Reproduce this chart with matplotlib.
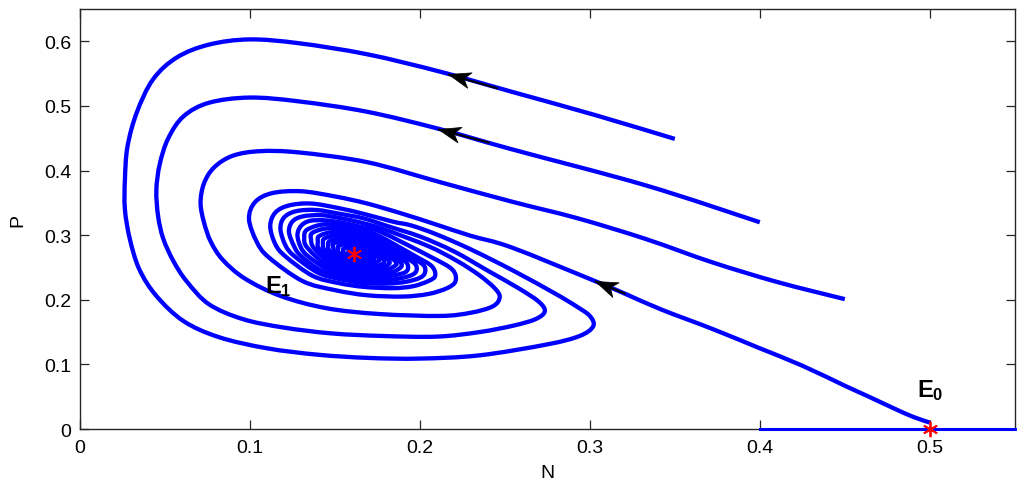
import numpy as np
import matplotlib
matplotlib.use("Agg")
import matplotlib.pyplot as plt
from matplotlib.path import Path
from matplotlib.patches import PathPatch
from matplotlib.markers import MarkerStyle
from matplotlib.transforms import Affine2D

plt.rcParams['font.family'] = ['Liberation Sans', 'DejaVu Sans']
plt.rcParams['mathtext.fontset'] = 'custom'
plt.rcParams['mathtext.rm'] = 'Liberation Sans'
plt.rcParams['mathtext.bf'] = 'Liberation Sans:bold'

# ---------------- data (N, P) ----------------
xticks = [0, 0.1, 0.2, 0.3, 0.4, 0.5]
xticklabels = ["0", "0.1", "0.2", "0.3", "0.4", "0.5"]
yticks = [0, 0.1, 0.2, 0.3, 0.4, 0.5, 0.6]
yticklabels = ["0", "0.1", "0.2", "0.3", "0.4", "0.5", "0.6"]

E0 = (0.5, 0.0)
E1 = (0.161, 0.271)

# trajectory 1: start (0.35, 0.45), outermost loop A and its return
traj1_N = [0.350, 0.303, 0.254, 0.212, 0.169, 0.129, 0.100, 0.076, 0.057, 0.043, 0.0335, 0.028, 0.0265,
           0.0265, 0.0294, 0.035, 0.045, 0.061, 0.082, 0.110, 0.140, 0.170, 0.200, 0.235,
           0.275, 0.294, 0.302, 0.300, 0.292, 0.280, 0.255, 0.230, 0.210, 0.195]
traj1_P = [0.449, 0.486, 0.522, 0.553, 0.580, 0.597, 0.603, 0.595, 0.575, 0.541, 0.490, 0.437, 0.386,
           0.340, 0.294, 0.247, 0.206, 0.167, 0.142, 0.125, 0.115, 0.110, 0.109, 0.114,
           0.131, 0.144, 0.159, 0.175, 0.190, 0.209, 0.245, 0.278, 0.301, 0.315]

# trajectory 2: start (0.4, 0.32), loop B and its return
traj2_N = [0.400, 0.333, 0.254, 0.212, 0.169, 0.129, 0.100, 0.076, 0.061, 0.052, 0.047, 0.045, 0.046,
           0.049, 0.055, 0.063, 0.076, 0.096, 0.120, 0.148, 0.178, 0.210, 0.235, 0.255, 0.268, 0.2735,
           0.270, 0.258, 0.240, 0.220, 0.200]
traj2_P = [0.320, 0.377, 0.433, 0.464, 0.491, 0.507, 0.513, 0.505, 0.484, 0.450, 0.410, 0.370, 0.330,
           0.295, 0.260, 0.228, 0.193, 0.170, 0.157, 0.148, 0.144, 0.143, 0.150, 0.160, 0.170, 0.182,
           0.197, 0.218, 0.245, 0.275, 0.298]

# trajectory 3: start (0.45, 0.2), loop C and its return
traj3_N = [0.450, 0.411, 0.372, 0.333, 0.293, 0.254, 0.212, 0.169, 0.129, 0.106, 0.090, 0.079, 0.073,
           0.071, 0.073, 0.077, 0.084, 0.097, 0.118, 0.145, 0.176, 0.212, 0.230, 0.243, 0.247,
           0.244, 0.235, 0.222, 0.205]
traj3_P = [0.201, 0.227, 0.258, 0.294, 0.326, 0.352, 0.382, 0.413, 0.428, 0.430, 0.423, 0.405, 0.380,
           0.350, 0.320, 0.290, 0.262, 0.233, 0.206, 0.187, 0.178, 0.175, 0.180, 0.190, 0.204,
           0.218, 0.238, 0.260, 0.283]

# trajectory 4: leaves E0 and enters the spiral (loop D)
traj4_N = [0.500, 0.490, 0.478, 0.465, 0.450, 0.425, 0.399, 0.372, 0.342, 0.321, 0.303, 0.254, 0.230, 0.209]
traj4_P = [0.010, 0.019, 0.033, 0.049, 0.067, 0.098, 0.126, 0.155, 0.185, 0.209, 0.229, 0.281, 0.299, 0.317]

# spiral revolutions around E1 (outer to inner)
revD_N = [0.190, 0.169, 0.150, 0.130, 0.113, 0.103, 0.0995, 0.104, 0.111, 0.131, 0.150, 0.169, 0.190, 0.205, 0.216, 0.221, 0.219, 0.206]
revD_P = [0.333, 0.349, 0.360, 0.368, 0.365, 0.351, 0.325, 0.290, 0.266, 0.229, 0.215, 0.207, 0.205, 0.209, 0.218, 0.229, 0.247, 0.267]
rev2_N = [0.184, 0.167, 0.152, 0.136, 0.123, 0.115, 0.112, 0.115, 0.121, 0.137, 0.152, 0.167, 0.184, 0.196, 0.205, 0.209, 0.207, 0.197]
rev2_P = [0.321, 0.333, 0.342, 0.349, 0.346, 0.335, 0.314, 0.286, 0.267, 0.237, 0.226, 0.220, 0.218, 0.221, 0.229, 0.237, 0.252, 0.268]
rev3_N = [0.181, 0.167, 0.153, 0.139, 0.127, 0.120, 0.118, 0.121, 0.126, 0.140, 0.153, 0.167, 0.181, 0.192, 0.200, 0.203, 0.202, 0.193]
rev3_P = [0.314, 0.326, 0.333, 0.339, 0.337, 0.327, 0.309, 0.284, 0.268, 0.242, 0.232, 0.226, 0.225, 0.228, 0.234, 0.242, 0.254, 0.268]
rev4_N = [0.179, 0.166, 0.154, 0.142, 0.131, 0.125, 0.123, 0.126, 0.130, 0.142, 0.154, 0.166, 0.179, 0.188, 0.195, 0.198, 0.197, 0.189]
rev4_P = [0.309, 0.319, 0.326, 0.331, 0.329, 0.321, 0.305, 0.283, 0.268, 0.245, 0.236, 0.231, 0.230, 0.233, 0.238, 0.245, 0.256, 0.269]
rev5_N = [0.177, 0.165, 0.155, 0.144, 0.135, 0.130, 0.128, 0.130, 0.134, 0.145, 0.155, 0.165, 0.177, 0.185, 0.191, 0.193, 0.192, 0.185]
rev5_P = [0.305, 0.313, 0.319, 0.323, 0.322, 0.314, 0.300, 0.281, 0.268, 0.248, 0.241, 0.236, 0.235, 0.238, 0.242, 0.248, 0.258, 0.269]
rev6_N = [0.175, 0.165, 0.146, 0.134, 0.132, 0.134, 0.147, 0.165, 0.182, 0.189, 0.188, 0.182]
rev6_P = [0.300, 0.308, 0.317, 0.309, 0.296, 0.280, 0.251, 0.241, 0.242, 0.251, 0.260, 0.269]
rev7_N = [0.173, 0.164, 0.148, 0.137, 0.136, 0.138, 0.149, 0.164, 0.179, 0.186, 0.185, 0.180]
rev7_P = [0.296, 0.303, 0.311, 0.304, 0.293, 0.279, 0.254, 0.245, 0.246, 0.254, 0.261, 0.269]
rev8_N = [0.171, 0.164, 0.150, 0.141, 0.140, 0.141, 0.151, 0.164, 0.176, 0.182, 0.181, 0.177]
rev8_P = [0.293, 0.298, 0.305, 0.299, 0.290, 0.278, 0.256, 0.249, 0.249, 0.256, 0.263, 0.270]
rev9_N = [0.170, 0.163, 0.152, 0.144, 0.143, 0.144, 0.152, 0.163, 0.174, 0.179, 0.178, 0.175]
rev9_P = [0.290, 0.294, 0.300, 0.295, 0.287, 0.277, 0.258, 0.252, 0.252, 0.258, 0.264, 0.270]
rev10_N = [0.168, 0.163, 0.153, 0.147, 0.146, 0.147, 0.154, 0.163, 0.172, 0.176, 0.176, 0.172]
rev10_P = [0.287, 0.291, 0.295, 0.291, 0.285, 0.276, 0.261, 0.255, 0.256, 0.261, 0.265, 0.270]
rev11_N = [0.167, 0.163, 0.155, 0.149, 0.149, 0.150, 0.155, 0.163, 0.170, 0.173, 0.173, 0.170]
rev11_P = [0.283, 0.287, 0.290, 0.287, 0.282, 0.275, 0.263, 0.258, 0.259, 0.263, 0.266, 0.270]
rev12_N = [0.165, 0.162, 0.156, 0.152, 0.152, 0.152, 0.157, 0.162, 0.168, 0.170, 0.170, 0.168]
rev12_P = [0.280, 0.283, 0.286, 0.283, 0.279, 0.274, 0.265, 0.261, 0.262, 0.265, 0.267, 0.270]
rev13_N = [0.164, 0.162, 0.158, 0.155, 0.155, 0.155, 0.158, 0.162, 0.165, 0.167, 0.167, 0.166]
rev13_P = [0.277, 0.279, 0.281, 0.279, 0.276, 0.273, 0.267, 0.265, 0.265, 0.267, 0.269, 0.271]
rev14_N = [0.162, 0.161, 0.159, 0.158, 0.158, 0.158, 0.160, 0.161, 0.163, 0.164, 0.164, 0.163]
rev14_P = [0.274, 0.275, 0.276, 0.275, 0.274, 0.272, 0.269, 0.268, 0.268, 0.269, 0.270, 0.271]

# stable manifold of E0 on the N axis
axis_N = [0.4, 0.55]
axis_P = [0.0, 0.0]

# direction arrows: (tail N, tail P, head N, head P)
arrow_tail_N = [0.246, 0.241, 0.321]
arrow_tail_P = [0.527, 0.443, 0.209]
arrow_head_N = [0.2165, 0.2106, 0.303]
arrow_head_P = [0.549, 0.464, 0.229]

# ---------------- figure ----------------
fig = plt.figure(figsize=(10.24, 5.02), dpi=100)
ax = fig.add_axes([0.078, 0.1434, 0.913, 0.8366])
ax.set_xlim(0, 0.55)
ax.set_ylim(0, 0.65)

blue = (0, 0, 1)
lw = 3.1


def chain(*parts):
    n = np.concatenate([np.asarray(p[0], float) for p in parts])
    p = np.concatenate([np.asarray(p[1], float) for p in parts])
    return n, p


def smooth_path(n, p):
    """Cubic Bezier path (rendered by matplotlib) passing through the read points."""
    pts = np.column_stack([n, p])
    m = len(pts)
    verts = [pts[0]]
    codes = [Path.MOVETO]
    for i in range(m - 1):
        p0 = pts[i - 1] if i > 0 else pts[i]
        p1 = pts[i]
        p2 = pts[i + 1]
        p3 = pts[i + 2] if i + 2 < m else pts[i + 1]
        c1 = p1 + (p2 - p0) / 6.0
        c2 = p2 - (p3 - p1) / 6.0
        verts += [c1, c2, p2]
        codes += [Path.CURVE4, Path.CURVE4, Path.CURVE4]
    return Path(np.array(verts), codes)


paths = [
    chain((traj4_N, traj4_P), (revD_N, revD_P), (rev5_N, rev5_P), (rev9_N, rev9_P), (rev13_N, rev13_P)),
    chain((traj1_N, traj1_P), (rev2_N, rev2_P), (rev6_N, rev6_P), (rev10_N, rev10_P), (rev14_N, rev14_P)),
    chain((traj2_N, traj2_P), (rev3_N, rev3_P), (rev7_N, rev7_P), (rev11_N, rev11_P)),
    chain((traj3_N, traj3_P), (rev4_N, rev4_P), (rev8_N, rev8_P), (rev12_N, rev12_P)),
]
for n, p in paths:
    ax.add_patch(PathPatch(smooth_path(n, p), facecolor='none', edgecolor=blue, lw=lw,
                           joinstyle='round', capstyle='butt', zorder=3))

ax.plot(axis_N, axis_P, color=blue, lw=2.2, clip_on=False, zorder=4)

# barbed arrowheads (tip at the marker origin), MATLAB quiver style
barb = Path([(0, 0), (-2.0, 0.72), (-1.45, 0.0), (-2.0, -0.72), (0, 0)],
            [Path.MOVETO, Path.LINETO, Path.LINETO, Path.LINETO, Path.CLOSEPOLY])
for tn, tp, hn, hp in zip(arrow_tail_N, arrow_tail_P, arrow_head_N, arrow_head_P):
    ax.plot([tn, hn], [tp, hp], color='black', lw=1.5, zorder=5, solid_capstyle='butt')
    (x0, y0), (x1, y1) = ax.transData.transform([(tn, tp), (hn, hp)])
    ang = np.degrees(np.arctan2(y1 - y0, x1 - x0))
    mk = MarkerStyle(barb, transform=Affine2D().rotate_deg(ang))
    ax.plot([hn], [hp], marker=mk, markersize=32, color='black', mec='black', mew=0.5,
            ls='none', zorder=6)

ast = (6, 2, 0)
ax.plot([E1[0]], [E1[1]], marker=ast, color='red', markersize=11, mew=1.3, ls='none', zorder=6)
ax.plot([E0[0]], [E0[1]], marker=ast, color='red', markersize=11, mew=1.3, ls='none', zorder=6, clip_on=False)

ax.text(0.109, 0.212, r'$\mathbf{E_1}$', fontsize=17, color='black', va='baseline', ha='left')
ax.text(0.4925, 0.051, r'$\mathbf{E_0}$', fontsize=17, color='black', va='baseline', ha='left')

ax.set_xticks(xticks)
ax.set_xticklabels(xticklabels)
ax.set_yticks(yticks)
ax.set_yticklabels(yticklabels)
ax.tick_params(direction='in', length=6.5, width=0.9, labelsize=14, top=True, right=True,
               color='#262626', labelcolor='black')
ax.tick_params(axis='x', pad=7)
ax.tick_params(axis='y', pad=6)
for s in ax.spines.values():
    s.set_linewidth(1.0)
    s.set_color('#262626')
ax.set_xlabel('N', fontsize=14, labelpad=6)
ax.set_ylabel('P', fontsize=14, labelpad=13)

fig.savefig('out.png', dpi=100)
